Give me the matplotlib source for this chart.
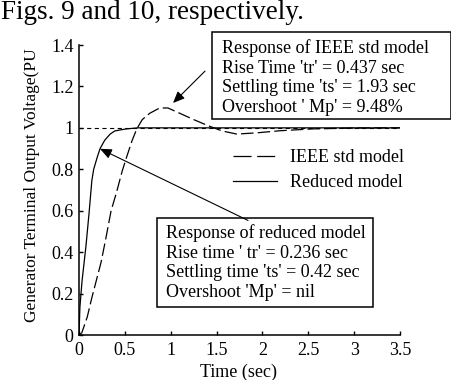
import matplotlib
matplotlib.use("Agg")
import matplotlib.pyplot as plt
from matplotlib.patches import Rectangle

plt.rcParams['font.family'] = ['Liberation Serif', 'DejaVu Serif']
plt.rcParams['lines.scale_dashes'] = False

# ---- data ----
ieee_t = [0, 0.03, 0.09, 0.14, 0.24, 0.29, 0.35, 0.41, 0.47, 0.52, 0.58, 0.63,
          0.69, 0.77, 0.88, 0.97, 1.10, 1.25, 1.41, 1.56, 1.72, 1.94, 2.19,
          2.55, 3.0, 3.5]
ieee_v = [0, 0.01, 0.087, 0.18, 0.35, 0.46, 0.60, 0.69, 0.79, 0.86, 0.94, 0.995,
          1.04, 1.07, 1.096, 1.096, 1.07, 1.04, 1.01, 0.985, 0.97, 0.976, 0.986,
          0.995, 0.999, 1.0]
red_t = [0, 0.01, 0.033, 0.076, 0.11, 0.14, 0.16, 0.20, 0.23, 0.28, 0.34, 0.39,
         0.45, 0.52, 0.64, 1.0, 3.5]
red_v = [0, 0.135, 0.26, 0.43, 0.59, 0.745, 0.80, 0.86, 0.90, 0.94, 0.97, 0.985,
         0.99, 0.995, 1.0, 1.0, 1.0]
reference_level = 1.0

x_ticks = [0, 0.5, 1, 1.5, 2, 2.5, 3, 3.5]
x_tick_labels = ['0', '0.5', '1', '1.5', '2', '2.5', '3', '3.5']
y_ticks = [0, 0.2, 0.4, 0.6, 0.8, 1.0, 1.2, 1.4]
y_tick_labels = ['0', '0.2', '0.4', '0.6', '0.8', '1', '1.2', '1.4']

series_names = ['IEEE std model', 'Reduced model']
ieee_box_lines = ["Response of IEEE std model",
                  "Rise Time 'tr' = 0.437 sec",
                  "Settling time 'ts' = 1.93 sec",
                  "Overshoot ' Mp' = 9.48%"]
red_box_lines = ["Response of reduced model",
                 "Rise time ' tr' = 0.236 sec",
                 "Settling time 'ts' = 0.42 sec",
                 "Overshoot 'Mp' = nil"]
# arrow (tip, tail) in data coordinates
ieee_arrow = ((1.025, 1.12), (1.374, 1.274))
red_arrow = ((0.229, 0.899), (1.843, 0.553))

W, H = 452, 380
fig = plt.figure(figsize=(W / 100, H / 100), dpi=100)
fig.patch.set_facecolor('white')

def fx(px):
    return px / W

def fy(py):
    return 1 - py / H

ax = fig.add_axes([fx(79), fy(335), fx(400) - fx(79), fy(45) - fy(335)])
ax.set_xlim(0, 3.5)
ax.set_ylim(0, 1.4)

ax.axhline(reference_level, color='black', lw=0.8, dashes=(3, 2.5))
ax.plot(red_t, red_v, color='black', lw=0.9, solid_joinstyle='round')
ax.plot(ieee_t, ieee_v, color='black', lw=0.9, dashes=(9, 3))

for sp in ['top', 'right']:
    ax.spines[sp].set_visible(False)
for sp in ['left', 'bottom']:
    ax.spines[sp].set_linewidth(1.1)

ax.set_xticks(x_ticks)
ax.set_xticklabels(x_tick_labels)
ax.set_yticks(y_ticks)
ax.set_yticklabels(y_tick_labels)
ax.tick_params(direction='in', length=3, width=1, labelsize=13)
ax.tick_params(axis='x', pad=5)
ax.tick_params(axis='y', pad=4)

arrowprops = dict(arrowstyle='-|>,head_length=0.7,head_width=0.3',
                  color='black', lw=0.8, shrinkA=0, shrinkB=0)
ax.annotate('', xy=ieee_arrow[0], xytext=ieee_arrow[1], arrowprops=arrowprops)
ax.annotate('', xy=red_arrow[0], xytext=red_arrow[1], arrowprops=arrowprops)

# legend (no frame)
fig.add_artist(plt.Line2D([fx(233), fx(277)], [fy(155.7), fy(155.7)],
                          color='black', lw=0.9, dashes=(13, 4)))
fig.add_artist(plt.Line2D([fx(233), fx(277)], [fy(181), fy(181)],
                          color='black', lw=0.9))
fig.text(fx(290), fy(161.7), series_names[0], fontsize=13, va='baseline')
fig.text(fx(290), fy(186.7), series_names[1], fontsize=13, va='baseline')

# text boxes
fig.add_artist(Rectangle((fx(212), fy(119)), fx(451) - fx(212), fy(32) - fy(119),
                         transform=fig.transFigure, fill=False, ec='black', lw=1.1))
for line, base in zip(ieee_box_lines, [53.3, 73.0, 92.0, 111.7]):
    fig.text(fx(222), fy(base), line, fontsize=13, va='baseline')

fig.add_artist(Rectangle((fx(157), fy(307)), fx(373) - fx(157), fy(218) - fy(307),
                         transform=fig.transFigure, fill=False, ec='black', lw=1.1))
for line, base in zip(red_box_lines, [238.3, 257.7, 277.3, 296.7]):
    fig.text(fx(166), fy(base), line, fontsize=13, va='baseline')

# axis labels
fig.text(fx(238.5), fy(376.7), 'Time (sec)', fontsize=13, ha='center', va='baseline')
fig.text(fx(32), fy(185.5), 'Generator Terminal Output Voltage(PU', fontsize=12.5,
         rotation=90, ha='center', va='center')

# page text at the top (kept fully inside the picture)
fig.text(fx(1), fy(19), 'Figs. 9 and 10, respectively.', fontsize=19.5, va='baseline')

fig.savefig('out.png', dpi=100)
